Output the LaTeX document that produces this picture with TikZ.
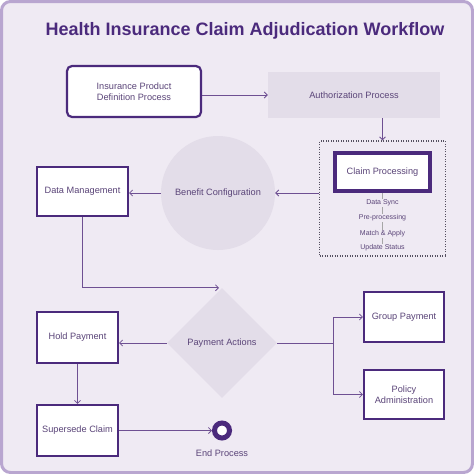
\documentclass[tikz,border=0pt]{standalone}
\usepackage{fontspec}
\setmainfont{Liberation Sans}
\usetikzlibrary{arrows.meta,shapes.geometric,calc}
\definecolor{bg}{HTML}{EFEAF3}
\definecolor{framec}{HTML}{B9A6D0}
\definecolor{dpurple}{HTML}{4B2A7C}
\definecolor{lpurple}{HTML}{6E5092}
\definecolor{txt}{HTML}{5A4478}
\definecolor{gfill}{HTML}{E3DDE9}
\definecolor{dotc}{HTML}{555060}
\begin{document}
\begin{tikzpicture}[x=1pt,y=-1pt,
  box/.style={draw=dpurple, line width=2.2pt, fill=white, text=txt, align=center, font=\fontsize{9.2}{11}\selectfont, inner sep=0pt},
  grey/.style={fill=gfill, text=txt, align=center, font=\fontsize{9.2}{11}\selectfont, inner sep=0pt},
  conn/.style={draw=lpurple, line width=0.8pt},
  arr/.style={conn, -{Straight Barb[length=3pt,width=6pt]}},
  steplbl/.style={fill=bg, text=txt, font=\fontsize{7}{8}\selectfont, inner sep=0.8pt}
]
\useasboundingbox (0,0) rectangle (474,474);
\fill[white] (0,0) rectangle (474,474);
\draw[framec, line width=3pt, fill=bg, rounded corners=9pt] (1.5,1.5) rectangle (472.5,472.5);

\node[text=dpurple, font=\bfseries\fontsize{18}{21}\selectfont] (title) at (245,31) {Health Insurance Claim Adjudication Workflow};

\node[box, rounded corners=5pt, minimum width=134pt, minimum height=51pt] (ip) at (134,91.5) {Insurance Product\\Definition Process};
\node[grey, minimum width=172pt, minimum height=46pt] (auth) at (354,95) {Authorization Process};

\node[draw=dotc, line width=1.3pt, dash pattern=on 0.9pt off 1.6pt, minimum width=126pt, minimum height=115pt, inner sep=0pt] (dot) at (382.5,198.5) {};
\node[box, line width=4.5pt, minimum width=95pt, minimum height=38pt, font=\fontsize{9.2}{11}\selectfont] (cp) at (382.5,172) {Claim Processing};
\coordinate (stepend) at (382.5,252);
\draw[draw=gray!70, line width=0.6pt] (cp.south) -- (stepend);
\node[steplbl] (s1) at (382.5,203) {Data Sync};
\node[steplbl] (s2) at (382.5,218) {Pre-processing};
\node[steplbl] (s3) at (382.5,234) {Match \& Apply};
\node[steplbl] (s4) at (382.5,248) {Update Status};

\node[grey, circle, minimum size=114pt] (bc) at (218,193) {Benefit Configuration};
\node[box, minimum width=91pt, minimum height=49pt] (dm) at (82.5,191.5) {Data Management};

\node[grey, diamond, aspect=1, minimum size=110pt] (pa) at (222,343) {Payment Actions};
\node[box, minimum width=81pt, minimum height=51pt] (hp) at (77.5,337.5) {Hold Payment};
\node[box, minimum width=81pt, minimum height=51pt] (sc) at (77.5,430.5) {Supersede Claim};
\node[circle, draw=dpurple, line width=5pt, fill=white, minimum size=15pt, inner sep=0pt] (end) at (222,430.5) {};
\node[text=txt, font=\fontsize{9.2}{11}\selectfont] (endlbl) at (222,453) {End Process};

\node[box, minimum width=80pt, minimum height=50pt] (gp) at (404,317) {Group Payment};
\node[box, minimum width=80pt, minimum height=49pt] (pol) at (404,394.5) {Policy\\Administration};
\coordinate (split) at (333,343);

\draw[arr] (ip.east |- auth.west) -- (auth.west);
\draw[arr] (auth.south -| cp.north) -- (dot.north -| cp.north);
\draw[arr] (dot.west |- bc.east) -- (bc.east);
\draw[arr] (bc.west) -- (dm.east |- bc.west);
\draw[arr] (dm.south) |- ($(pa.north)+(-3,0)$);
\draw[arr] (pa.west) -- (hp.east |- pa.west);
\draw[arr] (hp.south) -- (sc.north);
\draw[arr] (sc.east) -- (end.west);
\draw[conn] (pa.east) -- (split);
\draw[arr] (split) |- (gp.west);
\draw[arr] (split) |- (pol.west);
\end{tikzpicture}
\end{document}
